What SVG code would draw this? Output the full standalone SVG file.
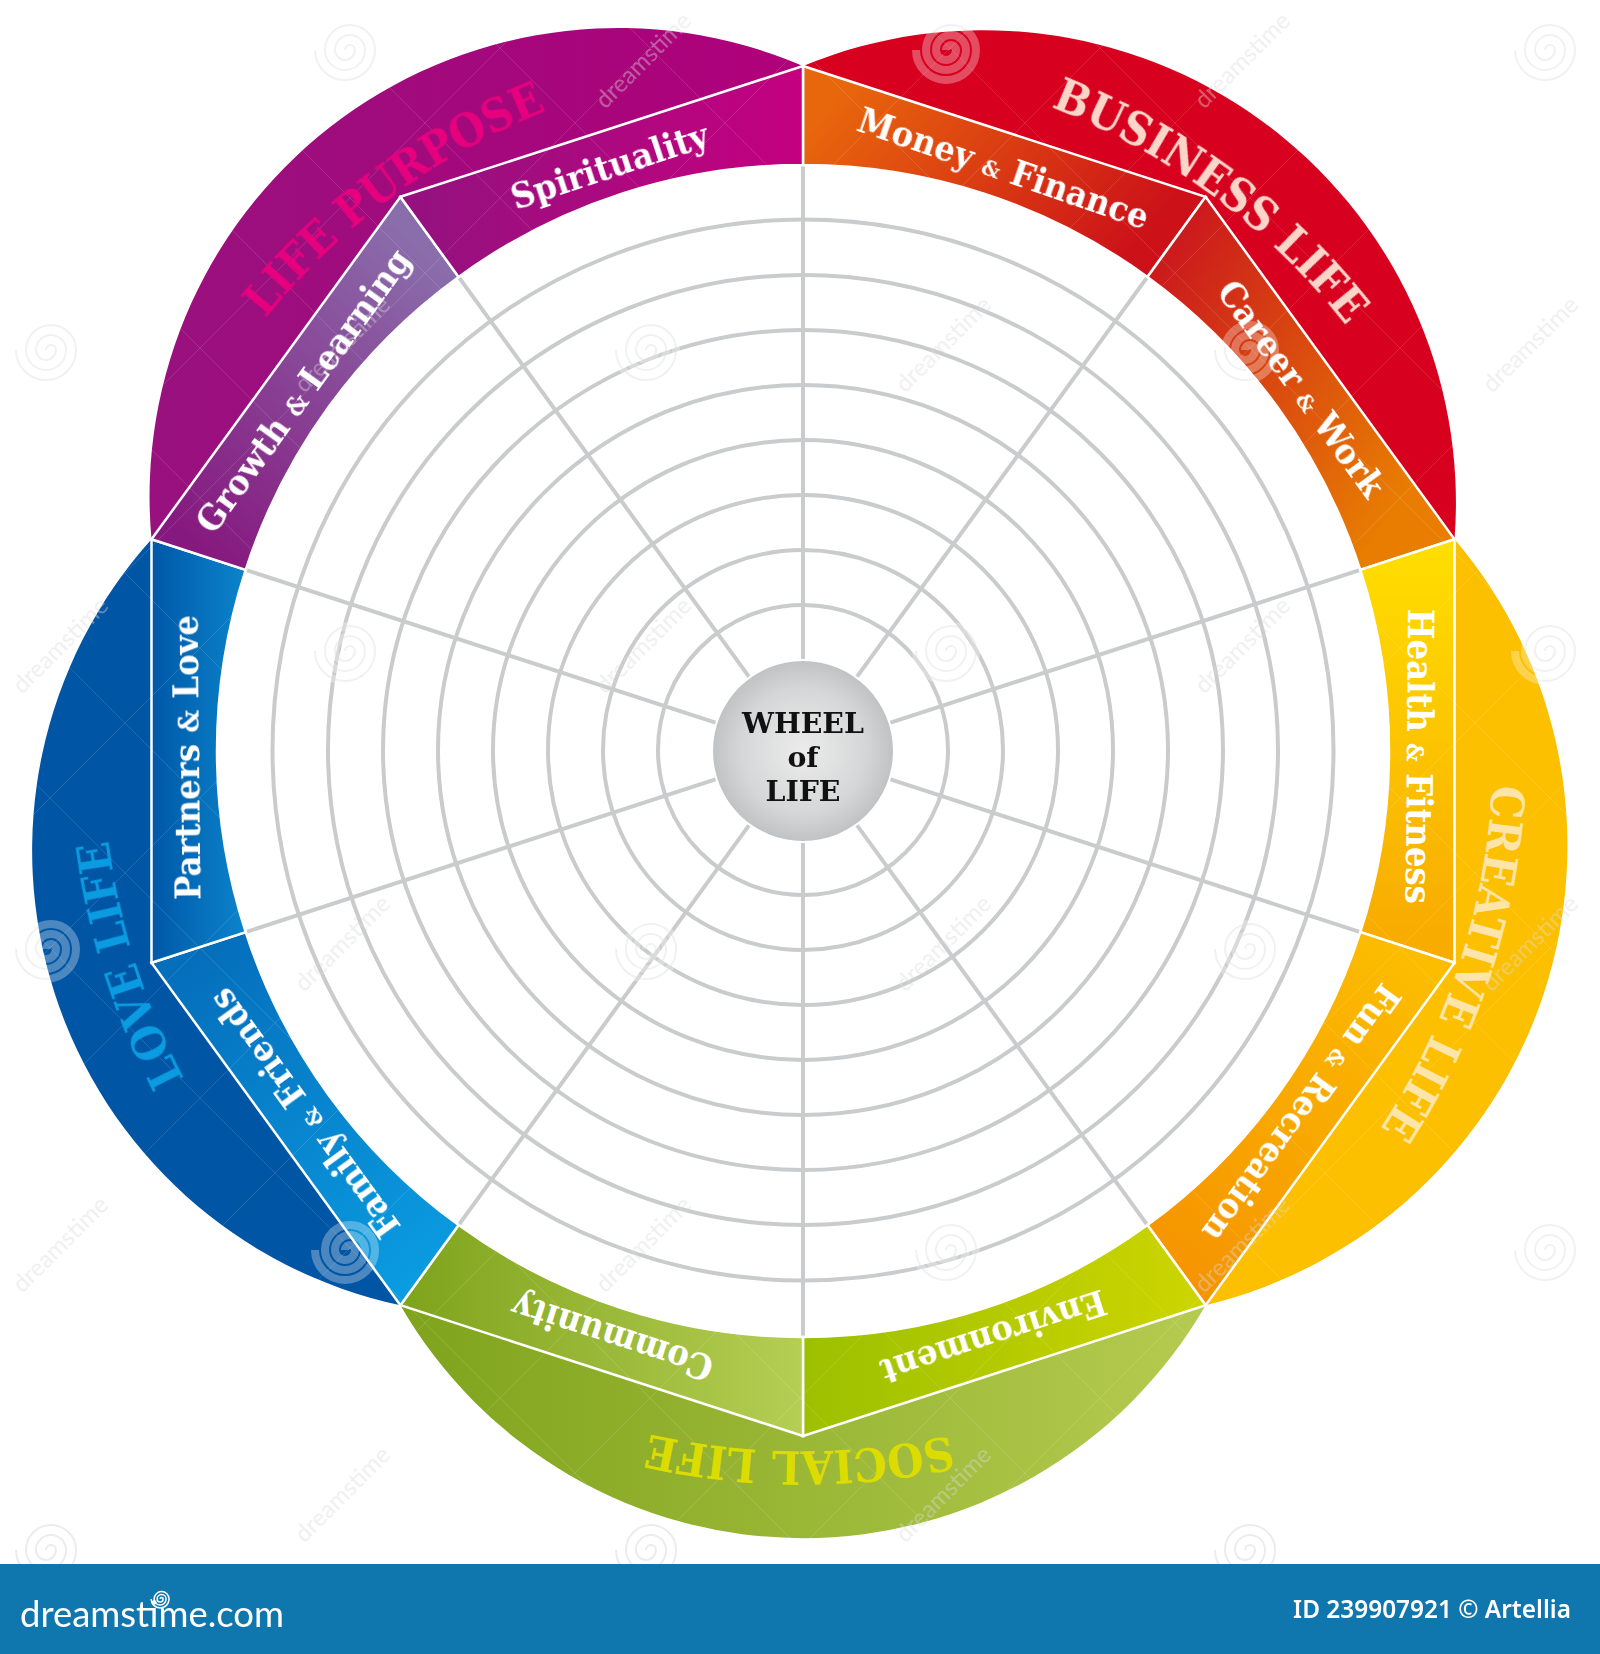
<svg xmlns="http://www.w3.org/2000/svg" width="1600" height="1654" viewBox="0 0 1600 1654">
<style>
.seg{stroke:#fff;stroke-width:2.5;stroke-linejoin:miter}
.sub{font-family:"DejaVu Serif Condensed","DejaVu Serif",serif;font-weight:700;font-size:36px;fill:#fff;text-anchor:middle}
.amp{font-size:23px}
.big{font-family:"DejaVu Serif Condensed","DejaVu Serif",serif;font-weight:700;font-size:46px;text-anchor:middle}
.hub{font-family:"DejaVu Serif","Liberation Serif",serif;font-weight:700;font-size:28.4px;fill:#111;text-anchor:middle}
.ring{fill:none;stroke:#c9cbcc;stroke-width:4}
.spoke{stroke:#c9cbcc;stroke-width:4}
.sp{fill:none}
.spg{stroke:#ececec;stroke-width:2}
.spw{stroke:#fff;stroke-width:8;opacity:.3}
.wmt{font-family:"Lato","Noto Sans",sans-serif;font-size:24px;fill:#dcdcdc;opacity:.4;text-anchor:middle}
</style>
<defs>
<path id="a690" d="M123.5 631.2A690 690 0 0 1 1482.5 631.2"/>
<path id="a700" d="M113.6 629.4A700 700 0 0 1 1492.4 629.4"/>
<path id="spiral" d="M-3 0a5 5 0 0 1 10 0a10 10 0 0 1-20 0a15 15 0 0 1 30 0a20 20 0 0 1-40 0a25 25 0 0 1 50 0a30 30 0 0 1-60 0"/>
<pattern id="wmLines" patternUnits="userSpaceOnUse" width="150" height="150" patternTransform="translate(50 48)"><path d="M0 150L150 0M0 0L150 150" stroke="#fff" stroke-width="1" fill="none"/></pattern>
<clipPath id="colored">
<path d="M803 66A472.5 472.5 0 0 1 1454.5 539.3L1360.3 569.9A586 586 0 0 0 803 165Z"/>
<path d="M1454.5 539.3A472.5 472.5 0 0 1 1205.6 1305.2L1147.4 1225.1A586 586 0 0 0 1360.3 569.9Z"/>
<path d="M1205.6 1305.2A464.4 464.4 0 0 1 400.4 1305.2L458.6 1225.1A586 586 0 0 0 1147.4 1225.1Z"/>
<path d="M400.4 1305.2A465 465 0 0 1 151.5 539.3L245.7 569.9A586 586 0 0 0 458.6 1225.1Z"/>
<path d="M151.5 539.3A468.6 468.6 0 0 1 803 66L803 165A586 586 0 0 0 245.7 569.9Z"/>
</clipPath>
<radialGradient id="gHub" gradientUnits="userSpaceOnUse" cx="803" cy="751" r="90"><stop offset="0" stop-color="#ececec"/><stop offset=".7" stop-color="#d5d6d7"/><stop offset="1" stop-color="#c0c2c3"/></radialGradient>
<linearGradient id="gMoney" gradientUnits="userSpaceOnUse" x1="860" y1="70" x2="1110" y2="280"><stop offset="0" stop-color="#e8660c"/><stop offset="1" stop-color="#cc1119"/></linearGradient>
<linearGradient id="gCareer" gradientUnits="userSpaceOnUse" x1="1150" y1="290" x2="1420" y2="470"><stop offset="0" stop-color="#cc1b1c"/><stop offset="1" stop-color="#e87d02"/></linearGradient>
<linearGradient id="gHealth" gradientUnits="userSpaceOnUse" x1="1400" y1="545" x2="1400" y2="930"><stop offset="0" stop-color="#ffde00"/><stop offset="1" stop-color="#f8ac00"/></linearGradient>
<linearGradient id="gFun" gradientUnits="userSpaceOnUse" x1="1430" y1="980" x2="1170" y2="1280"><stop offset="0" stop-color="#fcbc00"/><stop offset="1" stop-color="#f59300"/></linearGradient>
<linearGradient id="gEnv" gradientUnits="userSpaceOnUse" x1="803" y1="0" x2="1200" y2="0"><stop offset="0" stop-color="#9cc000"/><stop offset="1" stop-color="#cdd500"/></linearGradient>
<linearGradient id="gCom" gradientUnits="userSpaceOnUse" x1="403" y1="0" x2="803" y2="0"><stop offset="0" stop-color="#7fa31c"/><stop offset="1" stop-color="#b5ce54"/></linearGradient>
<linearGradient id="gFam" gradientUnits="userSpaceOnUse" x1="170" y1="980" x2="400" y2="1290"><stop offset="0" stop-color="#056fbc"/><stop offset="1" stop-color="#0a9be0"/></linearGradient>
<linearGradient id="gPar" gradientUnits="userSpaceOnUse" x1="152" y1="0" x2="245" y2="0"><stop offset="0" stop-color="#0058a8"/><stop offset="1" stop-color="#0b84cb"/></linearGradient>
<linearGradient id="gGro" gradientUnits="userSpaceOnUse" x1="170" y1="520" x2="420" y2="240"><stop offset="0" stop-color="#86197f"/><stop offset="1" stop-color="#8a6eac"/></linearGradient>
<linearGradient id="gSpi" gradientUnits="userSpaceOnUse" x1="420" y1="0" x2="803" y2="0"><stop offset="0" stop-color="#95117f"/><stop offset="1" stop-color="#c4007f"/></linearGradient>
<linearGradient id="gPur" gradientUnits="userSpaceOnUse" x1="150" y1="0" x2="803" y2="0"><stop offset="0" stop-color="#98117e"/><stop offset="1" stop-color="#b0007a"/></linearGradient>
<linearGradient id="gSoc" gradientUnits="userSpaceOnUse" x1="400" y1="0" x2="1206" y2="0"><stop offset="0" stop-color="#7fa31c"/><stop offset="1" stop-color="#b5cb50"/></linearGradient>
</defs>
<rect width="1600" height="1654" fill="#fff"/>
<g id="watermark-under" class="sp spg">
<use href="#spiral" x="348" y="50"/><use href="#spiral" x="949" y="50"/><use href="#spiral" x="1548" y="50"/>
<use href="#spiral" x="49" y="350"/><use href="#spiral" x="649" y="350"/><use href="#spiral" x="1248" y="350"/>
<use href="#spiral" x="348" y="651"/><use href="#spiral" x="949" y="651"/><use href="#spiral" x="1548" y="651"/>
<use href="#spiral" x="49" y="949"/><use href="#spiral" x="649" y="949"/><use href="#spiral" x="1248" y="949"/>
<use href="#spiral" x="348" y="1250"/><use href="#spiral" x="949" y="1250"/><use href="#spiral" x="1548" y="1250"/>
<use href="#spiral" x="49" y="1550"/><use href="#spiral" x="649" y="1550"/><use href="#spiral" x="1248" y="1550"/>
</g>
<g id="connectors">
<circle class="ring" cx="803" cy="750" r="145"/><circle class="ring" cx="803" cy="750" r="200"/><circle class="ring" cx="803" cy="750" r="255"/><circle class="ring" cx="803" cy="750" r="310"/><circle class="ring" cx="803" cy="750" r="365"/><circle class="ring" cx="803" cy="750" r="420"/><circle class="ring" cx="803" cy="750" r="475"/><circle class="ring" cx="803" cy="750" r="530.5"/>
<line class="spoke" x1="803" y1="165" x2="803" y2="659"/>
<line class="spoke" x1="803" y1="165" x2="803" y2="659" transform="rotate(36 803 751)"/>
<line class="spoke" x1="803" y1="165" x2="803" y2="659" transform="rotate(72 803 751)"/>
<line class="spoke" x1="803" y1="165" x2="803" y2="659" transform="rotate(108 803 751)"/>
<line class="spoke" x1="803" y1="165" x2="803" y2="659" transform="rotate(144 803 751)"/>
<line class="spoke" x1="803" y1="165" x2="803" y2="659" transform="rotate(180 803 751)"/>
<line class="spoke" x1="803" y1="165" x2="803" y2="659" transform="rotate(216 803 751)"/>
<line class="spoke" x1="803" y1="165" x2="803" y2="659" transform="rotate(252 803 751)"/>
<line class="spoke" x1="803" y1="165" x2="803" y2="659" transform="rotate(288 803 751)"/>
<line class="spoke" x1="803" y1="165" x2="803" y2="659" transform="rotate(324 803 751)"/>
</g>
<g id="business-life">
<path fill="#d7001f" d="M803 66A472.5 472.5 0 0 1 1454.5 539.3L1205.6 196.8Z"/>
<path class="seg" fill="url(#gMoney)" id="money" d="M803 66L1205.6 196.8L1147.4 276.9A586 586 0 0 0 803 165Z"/>
<path class="seg" fill="url(#gCareer)" id="career" d="M1205.6 196.8L1454.5 539.3L1360.3 569.9A586 586 0 0 0 1147.4 276.9Z"/>
</g>
<g id="creative-life">
<path fill="#fcc000" d="M1454.5 539.3A472.5 472.5 0 0 1 1205.6 1305.2L1454.5 962.7Z"/>
<path class="seg" fill="url(#gHealth)" id="health" d="M1454.5 539.3L1454.5 962.7L1360.3 932.1A586 586 0 0 0 1360.3 569.9Z"/>
<path class="seg" fill="url(#gFun)" id="fun" d="M1454.5 962.7L1205.6 1305.2L1147.4 1225.1A586 586 0 0 0 1360.3 932.1Z"/>
</g>
<g id="social-life">
<path fill="url(#gSoc)" d="M1205.6 1305.2A464.4 464.4 0 0 1 400.4 1305.2L803 1436Z"/>
<path class="seg" fill="url(#gEnv)" id="environment" d="M1205.6 1305.2L803 1436L803 1337A586 586 0 0 0 1147.4 1225.1Z"/>
<path class="seg" fill="url(#gCom)" id="community" d="M803 1436L400.4 1305.2L458.6 1225.1A586 586 0 0 0 803 1337Z"/>
</g>
<g id="love-life">
<path fill="#0055a4" d="M400.4 1305.2A465 465 0 0 1 151.5 539.3L151.5 962.7Z"/>
<path class="seg" fill="url(#gFam)" id="family" d="M400.4 1305.2L151.5 962.7L245.7 932.1A586 586 0 0 0 458.6 1225.1Z"/>
<path class="seg" fill="url(#gPar)" id="partners" d="M151.5 962.7L151.5 539.3L245.7 569.9A586 586 0 0 0 245.7 932.1Z"/>
</g>
<g id="life-purpose">
<path fill="url(#gPur)" d="M151.5 539.3A468.6 468.6 0 0 1 803 66L400.4 196.8Z"/>
<path class="seg" fill="url(#gGro)" id="growth" d="M151.5 539.3L400.4 196.8L458.6 276.9A586 586 0 0 0 245.7 569.9Z"/>
<path class="seg" fill="url(#gSpi)" id="spirituality" d="M400.4 196.8L803 66L803 165A586 586 0 0 0 458.6 276.9Z"/>
</g>
<rect id="watermark-lines" width="1600" height="1560" fill="url(#wmLines)" clip-path="url(#colored)" opacity=".13"/>
<g id="watermark-over" class="sp spw">
<use href="#spiral" x="348" y="50"/><use href="#spiral" x="949" y="50"/><use href="#spiral" x="1548" y="50"/>
<use href="#spiral" x="49" y="350"/><use href="#spiral" x="649" y="350"/><use href="#spiral" x="1248" y="350"/>
<use href="#spiral" x="348" y="651"/><use href="#spiral" x="949" y="651"/><use href="#spiral" x="1548" y="651"/>
<use href="#spiral" x="49" y="949"/><use href="#spiral" x="649" y="949"/><use href="#spiral" x="1248" y="949"/>
<use href="#spiral" x="348" y="1250"/><use href="#spiral" x="949" y="1250"/><use href="#spiral" x="1548" y="1250"/>
</g>
<g id="watermark-text">
<text class="wmt" transform="translate(649 66) rotate(-45)">dreamstime</text>
<text class="wmt" transform="translate(1248 66) rotate(-45)">dreamstime</text>
<text class="wmt" transform="translate(348 350) rotate(-45)">dreamstime</text>
<text class="wmt" transform="translate(949 350) rotate(-45)">dreamstime</text>
<text class="wmt" transform="translate(1536 350) rotate(-45)">dreamstime</text>
<text class="wmt" transform="translate(66 651) rotate(-45)">dreamstime</text>
<text class="wmt" transform="translate(649 651) rotate(-45)">dreamstime</text>
<text class="wmt" transform="translate(1248 651) rotate(-45)">dreamstime</text>
<text class="wmt" transform="translate(348 949) rotate(-45)">dreamstime</text>
<text class="wmt" transform="translate(949 949) rotate(-45)">dreamstime</text>
<text class="wmt" transform="translate(1536 949) rotate(-45)">dreamstime</text>
<text class="wmt" transform="translate(66 1250) rotate(-45)">dreamstime</text>
<text class="wmt" transform="translate(649 1250) rotate(-45)">dreamstime</text>
<text class="wmt" transform="translate(1248 1250) rotate(-45)">dreamstime</text>
<text class="wmt" transform="translate(348 1500) rotate(-45)">dreamstime</text>
<text class="wmt" transform="translate(949 1500) rotate(-45)">dreamstime</text>
</g>
<g id="labels">
<text class="big" fill="#fbd6c8" transform="rotate(36.5 803 751)"><textPath href="#a690" startOffset="50%">BUSINESS LIFE</textPath></text>
<text class="big" fill="#fde4a8" transform="rotate(108 803 751)"><textPath href="#a690" startOffset="50%">CREATIVE LIFE</textPath></text>
<text class="big" fill="#dcdc00" transform="rotate(180.3 803 751)"><textPath href="#a700" startOffset="50%">SOCIAL LIFE</textPath></text>
<text class="big" fill="#0a9be0" transform="rotate(252.4 803 751)"><textPath href="#a700" startOffset="50%">LOVE LIFE</textPath></text>
<text class="big" fill="#e6007e" transform="rotate(323.5 803 751)"><textPath href="#a690" startOffset="50%">LIFE PURPOSE</textPath></text>
<text class="sub" x="803" y="147" transform="rotate(19 803 751)">Money <tspan class="amp">&amp;</tspan> Finance</text>
<text class="sub" x="803" y="147" transform="rotate(54 803 751)">Career <tspan class="amp">&amp;</tspan> Work</text>
<text class="sub" x="803" y="147" transform="rotate(90.5 803 751)">Health <tspan class="amp">&amp;</tspan> Fitness</text>
<text class="sub" x="803" y="147" transform="rotate(126 803 751)">Fun <tspan class="amp">&amp;</tspan> Recreation</text>
<text class="sub" x="803" y="147" transform="rotate(162 803 751)">Environment</text>
<text class="sub" x="803" y="147" transform="rotate(198 803 751)">Community</text>
<text class="sub" x="803" y="147" transform="rotate(234 803 751)">Family <tspan class="amp">&amp;</tspan> Friends</text>
<text class="sub" x="803" y="147" transform="rotate(269.4 803 751)">Partners <tspan font-size="28">&amp;</tspan> Love</text>
<text class="sub" x="803" y="147" transform="rotate(305.8 803 751)">Growth <tspan font-size="26">&amp;</tspan> Learning</text>
<text class="sub" x="803" y="147" transform="rotate(341.7 803 751)">Spirituality</text>
</g>
<g id="hub">
<circle cx="803" cy="751" r="90" fill="url(#gHub)"/>
<text class="hub" x="803" y="733">WHEEL</text>
<text class="hub" x="803" y="767">of</text>
<text class="hub" x="803" y="801">LIFE</text>
</g>
<g id="footer">
<rect y="1564" width="1600" height="90" fill="#0f76ae"/>
<use href="#spiral" transform="translate(161 1599) scale(.3)" class="sp" stroke="#fff" stroke-width="5"/>
<text x="20" y="1627" font-family="Lato,'Noto Sans',sans-serif" font-size="36" fill="#fff" textLength="264" lengthAdjust="spacingAndGlyphs">dreamstime.com</text>
<text x="1571" y="1618" font-family="'Noto Sans','Liberation Sans',sans-serif" font-weight="600" font-size="24.4" fill="#fff" text-anchor="end">ID 239907921 © Artellia</text>
</g>
</svg>
